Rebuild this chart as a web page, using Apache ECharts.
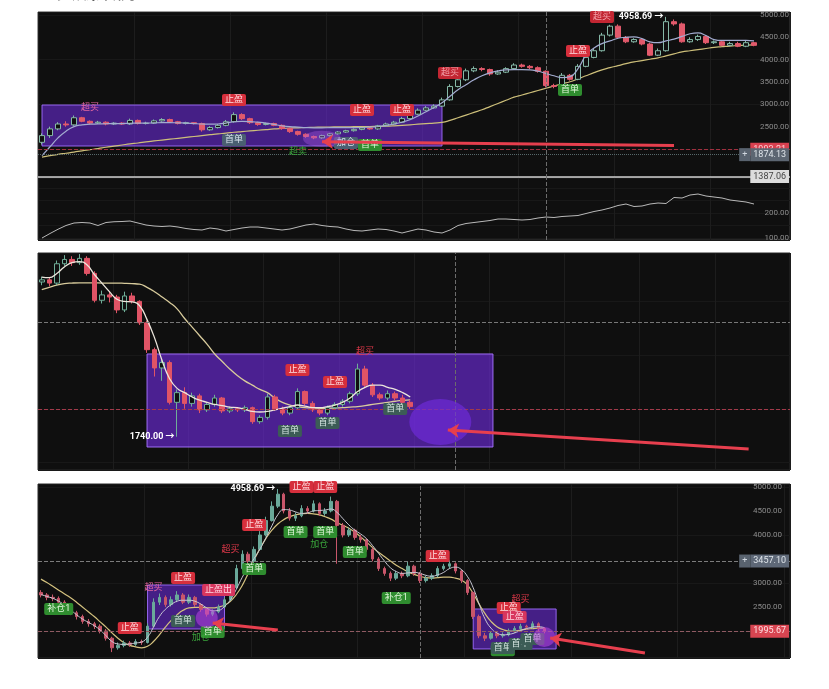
<!DOCTYPE html>
<html><head><meta charset="utf-8">
<script src="https://cdn.jsdelivr.net/npm/echarts@6/dist/echarts.min.js"></script>
<style>html,body{margin:0;padding:0;background:#fff}#c{width:829px;height:689px}</style>
</head><body><div id="c"></div>
<script>
const FONT = 'Roboto, "Noto Sans CJK SC", sans-serif';

// ---------- Panel 1 ----------
const cats1 = Array.from({length: 94}, (_, i) => 'A' + (i + 1));
const k1 = [
[2150,2300,2100,2350],[2300,2450,2250,2500],[2450,2560,2420,2600],[2560,2540,2500,2620],[2540,2700,2520,2750],
[2700,2620,2600,2720],[2620,2580,2550,2640],[2580,2600,2560,2630],[2600,2560,2530,2620],[2560,2580,2540,2600],
[2580,2560,2540,2600],[2560,2640,2540,2680],[2640,2570,2550,2660],[2570,2580,2550,2610],[2580,2630,2560,2660],
[2630,2660,2610,2690],[2660,2610,2590,2680],[2610,2570,2550,2630],[2570,2590,2550,2610],[2590,2570,2550,2600],
[2570,2430,2390,2590],[2430,2480,2410,2510],[2480,2530,2460,2560],[2530,2610,2510,2650],[2610,2770,2590,2820],
[2770,2680,2650,2800],[2680,2590,2560,2700],[2590,2550,2520,2610],[2550,2570,2530,2590],[2570,2530,2510,2590],
[2530,2460,2430,2550],[2460,2390,2360,2480],[2390,2330,2300,2410],[2330,2280,2250,2350],[2280,2250,2220,2300],
[2250,2300,2230,2320],[2300,2340,2280,2360],[2340,2380,2320,2400],[2380,2410,2360,2430],[2410,2440,2390,2460],
[2440,2470,2420,2490],[2470,2450,2430,2500],[2450,2520,2430,2540],[2520,2560,2500,2590],[2560,2600,2540,2630],
[2600,2680,2580,2720],[2680,2780,2660,2820],[2780,2870,2760,2910],[2870,2920,2850,2960],[2920,2960,2900,3000],
[2960,3100,2940,3150],[3100,3400,3080,3450],[3400,3550,3380,3600],[3550,3750,3520,3800],[3750,3800,3720,3850],
[3800,3780,3740,3830],[3780,3680,3640,3800],[3680,3720,3660,3760],[3720,3800,3700,3830],[3800,3880,3780,3920],
[3880,3850,3820,3910],[3850,3820,3790,3880],[3820,3740,3710,3850],[3740,3420,3380,3760],[3420,3400,3360,3460],
[3400,3650,3380,3700],[3650,3560,3530,3680],[3560,3850,3540,3900],[3850,4050,3830,4100],[4050,4200,4030,4250],
[4200,4550,4180,4600],[4550,4750,4520,4780],[4750,4500,4470,4790],[4500,4400,4370,4530],[4400,4450,4380,4480],
[4450,4350,4320,4480],[4350,4100,4080,4380],[4100,4200,4080,4250],[4200,4850,4180,4958.69],[4850,4800,4760,4900],
[4800,4400,4380,4830],[4400,4450,4380,4500],[4450,4520,4420,4560],[4520,4380,4350,4550],[4380,4400,4350,4430],
[4400,4320,4300,4420],[4320,4360,4300,4400],[4360,4300,4280,4400],[4300,4380,4280,4420],[4380,4320,4300,4400]
];
const ma1Fast = [1850,2050,2250,2400,2500,2540,2555,2560,2565,2570,
2570,2575,2580,2580,2585,2590,2590,2585,2580,2570,
2560,2555,2560,2580,2610,2620,2615,2600,2580,2550,
2520,2500,2490,2480,2475,2475,2478,2480,2480,2480,
2482,2490,2500,2530,2560,2600,2656,2740,2835,2930,
3036,3180,3326,3440,3549,3640,3705,3750,3772,3775,
3775,3772,3740,3690,3640,3600,3620,3800,4100,4260,
4360,4420,4480,4500,4510,4470,4400,4380,4420,4460,
4520,4580,4600,4540,4450,4430,4430,4430,4430,4420];
const ma1Slow = [1820,1850,1880,1905,1930,1960,1985,2010,2040,2065,
2090,2115,2135,2160,2180,2200,2220,2240,2260,2280,
2300,2320,2340,2355,2375,2390,2405,2420,2435,2450,
2460,2468,2475,2482,2487,2490,2493,2495,2497,2499,
2500,2503,2507,2512,2520,2530,2542,2555,2568,2580,
2595,2640,2700,2760,2820,2880,2950,3020,3090,3160,
3210,3260,3310,3360,3410,3460,3505,3570,3640,3710,
3772,3820,3865,3910,3950,3980,4010,4040,4085,4130,
4174,4200,4225,4250,4275,4290,4305,4315,4325,4330];
const sub1 = [100,118,135,150,160,162,160,150,162,165,
166,168,160,152,148,146,148,144,138,134,
132,140,136,128,134,140,144,144,140,136,
132,136,144,152,156,150,146,144,136,130,
128,132,136,134,128,120,128,136,132,124,
120,132,150,158,162,166,170,176,176,174,
172,174,180,184,182,186,188,190,198,206,
212,220,230,236,226,228,236,240,238,262,
260,272,276,268,264,260,252,248,244,236];
const box1 = [[0, 2985], [50, 2067]];
const levels1 = {red: 1993.21, grey: 1874.13, white: 1387.06};
const cross1 = 63;
const arrow1 = [[79, 2076], [35, 2165]];
const blob1 = [[35, 2230]];
const ticks1 = [2500, 3000, 3500, 4000, 4500, 5000];
const ticksSub1 = [100, 200];
const tags1 = [
 [6, 2918, '超买', 'pinkText'],
 [24, 3097, '止盈', 'tp'],
 [24, 2202, '首单', 'greyBlue'],
 [40, 2873, '止盈', 'tp'],
 [45, 2873, '止盈', 'tp'],
 [38, 2134, '加仓', 'greyBlue'],
 [41, 2090, '首单', 'green'],
 [32, 1933, '超卖', 'greenText'],
 [51, 3701, '超买', 'ob'],
 [66, 3321, '首单', 'green'],
 [67, 4194, '止盈', 'tp'],
 [70, 4955, '超买', 'ob'],
 [78, 4958.69, '4958.69 →', 'white']
];

// ---------- Panel 2 ----------
const cats2 = Array.from({length: 100}, (_, i) => 'B' + (i + 1));
const k2 = [
[3180,3200,3150,3230],[3200,3170,3140,3220],[3170,3350,3150,3380],[3350,3390,3330,3430],[3390,3360,3330,3420],
[3360,3400,3340,3440],[3400,3260,3240,3420],[3260,3010,2990,3280],[3010,3060,2980,3100],[3060,3040,2990,3090],
[3040,2920,2890,3060],[2920,3050,2900,3090],[3050,3000,2980,3080],[3000,2800,2780,3010],[2800,2550,2520,2820],
[2550,2380,2300,2570],[2380,2430,2260,2460],[2430,2060,2040,2450],[2060,2150,1740,2180],[2150,2050,2000,2200],
[2050,2120,2020,2150],[2120,1990,1960,2140],[1990,2040,1970,2060],[2040,2100,2020,2130],[2100,1980,1960,2110],
[1980,2000,1960,2020],[2000,1990,1970,2010],[1990,2010,1970,2030],[2010,1880,1860,2020],[1880,1920,1860,1940],
[1920,2110,1900,2140],[2110,2000,1980,2130],[2000,1960,1940,2020],[1960,2010,1940,2030],[2010,2160,1990,2190],
[2160,2050,2030,2170],[2050,1990,1970,2070],[1990,1960,1940,2000],[1960,2010,1940,2030],[2010,2040,1990,2060],
[2040,2070,2020,2090],[2070,2140,2050,2160],[2140,2370,2120,2420],[2370,2220,2200,2400],[2220,2130,2110,2240],
[2130,2100,2080,2150],[2100,2140,2080,2170],[2140,2100,2080,2160],[2100,2060,2040,2130],[2060,2020,2000,2080]
];
const ma2Fast = [3225,3220,3260,3320,3360,3370,3340,3250,3170,3090,
3020,3000,2995,2960,2830,2660,2450,2280,2190,2150,
2110,2080,2060,2040,2030,2015,2010,1995,1975,1970,
1975,1990,2005,2020,2035,2025,2010,2010,2020,2035,
2060,2100,2160,2200,2220,2220,2200,2180,2150,2110];
const ma2Slow = [3110,3130,3150,3165,3170,3172,3172,3172,3170,3170,
3170,3168,3165,3160,3130,3090,3040,2990,2930,2840,
2760,2680,2600,2510,2440,2370,2310,2260,2220,2180,
2150,2100,2060,2035,2020,2010,2007,2005,2005,2007,
2010,2015,2020,2030,2040,2050,2060,2070,2078,2082];
const box2 = [[14, 2510], [60, 1644]];
const levels2 = {white: 2808, red: 1999};
const cross2 = 55;
const arrow2 = [[94, 1626], [54, 1802]];
const blob2 = [[53, 1877]];
const tags2 = [
 [34, 2361, '止盈', 'tp'],
 [39, 2249, '止盈', 'tp'],
 [43, 2529, '超买', 'redText'],
 [33, 1793, '首单', 'grey'],
 [38, 1868, '首单', 'grey'],
 [47, 1998, '首单', 'grey'],
 [18, 1740, '1740.00 →', 'white']
];

// ---------- Panel 3 ----------
const cats3 = Array.from({length: 127}, (_, i) => 'C' + (i + 1));
const k3 = [
[2800,2750,2700,2850],[2750,2700,2640,2790],[2700,2680,2620,2760],[2680,2600,2550,2720],[2600,2480,2430,2640],
[2480,2380,2330,2520],[2380,2300,2240,2420],[2300,2200,2150,2340],[2200,2150,2090,2250],[2150,2100,2040,2190],
[2100,2000,1950,2140],[2000,1850,1800,2040],[1850,1650,1560,1880],[1650,1700,1610,1760],[1700,1750,1660,1800],
[1750,1720,1670,1790],[1720,1780,1690,1830],[1780,1760,1710,1820],[1760,2100,1740,2160],[2100,2600,2080,2680],
[2600,2700,2540,2780],[2700,2550,2500,2740],[2550,2650,2510,2720],[2650,2750,2600,2830],[2750,2600,2560,2790],
[2600,2700,2560,2760],[2700,2550,2500,2730],[2550,2450,2400,2580],[2450,2350,2300,2480],[2350,2400,2310,2450],
[2400,2500,2370,2550],[2500,2650,2480,2700],[2650,2900,2630,2960],[2900,3300,2880,3380],[3300,3600,3270,3680],
[3600,3450,3400,3650],[3450,3700,3420,3760],[3700,4000,3680,4080],[4000,4300,3970,4380],[4300,4600,4280,4700],
[4600,4850,4560,4958.69],[4850,4500,4450,4880],[4500,4350,4300,4560],[4350,4400,4290,4470],[4400,4550,4370,4620],
[4550,4500,4440,4600],[4500,4650,4470,4720],[4650,4450,4400,4680],[4450,4500,4400,4560],[4500,4700,4470,4800],
[4700,4200,3400,4730],[4200,4000,3950,4250],[4000,4100,3960,4160],[4100,3950,3900,4130],[3950,3900,3840,4000],
[3900,3700,3650,3930],[3700,3500,3450,3740],[3500,3300,3250,3540],[3300,3200,3150,3340],[3200,3100,3040,3240],
[3100,3200,3060,3250],[3200,3150,3100,3240],[3150,3350,3120,3450],[3350,3200,3150,3380],[3200,3050,3000,3230],
[3050,3100,3010,3150],[3100,3150,3060,3200],[3150,3300,3120,3350],[3300,3350,3260,3400],[3350,3400,3300,3470],
[3400,3250,3200,3430],[3250,3050,3000,3280],[3050,2800,2750,3080],[2800,2300,2250,2830],[2300,1900,1850,2340],
[1900,1850,1790,1960],[1850,1950,1820,2000],[1950,1900,1850,1990],[1900,1920,1860,1970],[1920,2000,1890,2050],
[2000,2050,1960,2100],[2050,2100,2010,2150],[2100,2080,2030,2130],[2080,2150,2050,2200],[2150,2050,2000,2180],
[2050,2000,1950,2080]
];
const ma3Fast = [2760,2720,2680,2620,2540,2440,2340,2250,2180,2110,
2020,1900,1780,1730,1720,1730,1750,1770,1870,2080,
2300,2450,2550,2620,2640,2640,2620,2560,2480,2420,
2430,2510,2650,2870,3120,3330,3510,3710,3940,4190,
4420,4530,4520,4480,4450,4460,4500,4510,4520,4540,
4470,4340,4210,4100,4020,3920,3780,3620,3460,3320,
3240,3200,3210,3220,3200,3160,3140,3170,3220,3300,
3330,3280,3140,2900,2560,2250,2060,1960,1920,1930,
1960,2010,2050,2080,2090,2070];
const ma3Slow = [3080,3010,2930,2850,2770,2690,2600,2500,2400,2300,
2190,2080,1960,1850,1760,1700,1670,1650,1680,1780,
1920,2080,2220,2340,2430,2480,2490,2490,2480,2480,
2500,2540,2620,2760,2950,3200,3480,3720,3930,4100,
4230,4320,4380,4420,4440,4450,4440,4420,4380,4330,
4260,4200,4140,4060,3960,3850,3740,3640,3550,3460,
3370,3300,3230,3180,3140,3110,3100,3110,3120,3120,
3100,3060,2960,2780,2560,2360,2200,2090,2030,2000,
2000,2020,2040,2050,2060,2060];
const box3a = [[18, 2958], [31, 2041]];
const box3b = [[73, 2458], [87, 1625]];
const levels3 = {grey: 3457.10, red: 1995.67, white: 1500.00};
const cross3 = 64;
const arrow3a = [[40, 2020], [29, 2166]];
const arrow3b = [[102, 1541], [86, 1854]];
const blob3 = [[28, 2270], [85, 1875]];
const ticks3 = [2500, 3000, 4000, 4500, 5000];
const tags3 = [
 [3, 2458, '补仓1', 'green'],
 [15, 2062, '止盈', 'tp'],
 [19, 2895, '超买', 'pinkText'],
 [24, 3104, '止盈', 'tp'],
 [30, 2854, '止盈出', 'tpPink'],
 [24, 2208, '首单', 'grey'],
 [29, 1979, '首单', 'green'],
 [27, 1854, '加仓', 'greenText'],
 [32, 3687, '超买', 'redText'],
 [36, 4208, '止盈', 'tp'],
 [36, 3291, '首单', 'green'],
 [44, 5000, '止盈', 'tp'],
 [48, 5000, '止盈', 'tp'],
 [43, 4062, '首单', 'green'],
 [48, 4062, '首单', 'green'],
 [47, 3791, '加仓', 'greenText'],
 [53, 3645, '首单', 'green'],
 [60, 2687, '补仓1', 'green'],
 [67, 3562, '止盈', 'tp'],
 [81, 2645, '超买', 'redText'],
 [79, 2479, '止盈', 'tp'],
 [80, 2291, '止盈', 'tpPink'],
 [78, 1600, '首单', 'green'],
 [78, 1645, '首单', 'grey'],
 [81, 1729, '首单', 'grey'],
 [83, 1833, '首单', 'grey'],
 [40, 4958.69, '4958.69 →', 'white']
];

// ---------- styles ----------
const TAG = {
  tp:       {backgroundColor: '#d62f3c', color: '#ffe0e3', padding: [2, 3, 1, 3], borderRadius: 2},
  tpPink:   {backgroundColor: '#d8365e', color: '#ffd7e2', padding: [2, 3, 1, 3], borderRadius: 2},
  ob:       {backgroundColor: '#c22632', color: '#f2a0a8', padding: [2, 3, 1, 3], borderRadius: 2},
  green:    {backgroundColor: '#2f8d2f', color: '#e3f7dc', padding: [2, 3, 1, 3], borderRadius: 2},
  grey:     {backgroundColor: '#3c5c56', color: '#d4e4e0', padding: [2, 3, 1, 3], borderRadius: 2},
  greyBlue: {backgroundColor: '#4a5f72', color: '#d9e3ee', padding: [2, 3, 1, 3], borderRadius: 2},
  redText:  {color: '#e2394b'},
  pinkText: {color: '#e466a0'},
  greenText:{color: '#3aa63b'},
  white:    {color: '#ffffff', fontSize: 9, fontWeight: 'bold'}
};
function tagData(list) {
  return list.map(([i, v, t, k]) => ({
    coord: [i, v], symbol: 'rect', symbolSize: 1,
    itemStyle: {color: 'rgba(0,0,0,0)'},
    label: Object.assign({show: true, position: k === 'white' ? 'left' : 'inside', distance: 2,
      formatter: t, fontSize: 9, fontFamily: FONT}, TAG[k])
  }));
}
function boxArea(b) {
  return [[{xAxis: b[0][0], yAxis: b[0][1]}, {xAxis: b[1][0], yAxis: b[1][1]}]];
}
function xAx(gi, cats, splitInt) {
  return {type: 'category', gridIndex: gi, data: cats, boundaryGap: true,
    axisLine: {show: false}, axisTick: {show: false}, axisLabel: {show: false},
    splitLine: {show: true, interval: splitInt, lineStyle: {color: '#1d1d1d', width: 1}}};
}
function yAx(gi, min, max, ticks, margin) {
  return {type: 'value', gridIndex: gi, position: 'right', min: min, max: max, scale: true,
    axisLine: {show: false}, axisTick: {show: false},
    axisLabel: ticks ? {show: true, inside: true, margin: margin, customValues: ticks,
      formatter: v => Number(v).toFixed(2), color: '#8c8c8c', fontSize: 8, fontFamily: FONT} : {show: false},
    splitLine: {show: true, lineStyle: {color: '#181818'}}};
}
const candleStyle = {color: '#101010', color0: '#e25a6c', borderColor: '#86b9a8', borderColor0: '#e25a6c', borderWidth: 1};
function arrowSeries(xi, coords) {
  return {type: 'lines', coordinateSystem: 'cartesian2d', xAxisIndex: xi, yAxisIndex: xi, z: 8,
    symbol: ['none', 'arrow'], symbolSize: 11, silent: true,
    lineStyle: {color: '#e73f4e', width: 3, opacity: 1},
    data: [{coords: coords}]};
}
function blobSeries(xi, pts, size, color) {
  return {type: 'scatter', xAxisIndex: xi, yAxisIndex: xi, z: 7, silent: true,
    symbol: 'circle', symbolSize: size, itemStyle: {color: color}, data: pts};
}
function vline(idx) {
  return {xAxis: idx, lineStyle: {color: '#6c6c6c', type: 'dashed', width: 1}, label: {show: false}};
}
const pricePlus = (v, bg) => ({show: true, position: 'insideEnd', distance: 1, fontFamily: FONT,
  formatter: '{p|+}{v|' + v + '}',
  rich: {p: {backgroundColor: '#59636f', color: '#cfd6de', padding: [2, 3], fontSize: 9},
         v: {backgroundColor: bg, color: '#dfe5ea', padding: [2, 3], fontSize: 9}}});
const priceBox = (v, bg, fg) => ({show: true, position: 'insideEnd', distance: 1, fontFamily: FONT,
  formatter: v, backgroundColor: bg, color: fg, padding: [2, 3], fontSize: 9});

const option = {
  backgroundColor: '#ffffff',
  animation: false,
  textStyle: {fontFamily: FONT},
  graphic: [
    {type: 'text', left: 36, top: -16, silent: true,
     style: {text: '、实战案例', fontSize: 20, fill: '#222', fontFamily: FONT}}
  ],
  grid: [
    {left: 38, top: 12, width: 752, height: 166, show: true, backgroundColor: '#0f0f0f', borderColor: '#3c3c3c', borderWidth: 1, outerBoundsMode: 'none'},
    {left: 38, top: 178, width: 752, height: 62, show: true, backgroundColor: '#0f0f0f', borderColor: '#3c3c3c', borderWidth: 1, outerBoundsMode: 'none'},
    {left: 38, top: 253, width: 752, height: 217, show: true, backgroundColor: '#0f0f0f', borderColor: '#2a2a2a', borderWidth: 1, outerBoundsMode: 'none'},
    {left: 38, top: 484, width: 752, height: 174, show: true, backgroundColor: '#0f0f0f', borderColor: '#2a2a2a', borderWidth: 1, outerBoundsMode: 'none'}
  ],
  xAxis: [xAx(0, cats1, 11), xAx(1, cats1, 11), xAx(2, cats2, 9), xAx(3, cats3, 17)],
  yAxis: [
    yAx(0, 1351, 5067, ticks1, 1),
    yAx(1, 92, 340, ticksSub1, 1),
    yAx(2, 1430, 3450, null, 0),
    yAx(3, 1437, 5062, ticks3, 8)
  ],
  series: [
    // ---- panel 1
    {type: 'line', xAxisIndex: 0, yAxisIndex: 0, data: ma1Slow, smooth: true, symbol: 'none', z: 1,
     lineStyle: {color: '#cdbf7a', width: 1.2},
     markArea: {silent: true, itemStyle: {color: 'rgba(104,42,208,0.62)', borderColor: 'rgba(160,110,255,0.9)', borderWidth: 1}, data: boxArea(box1)}},
    {type: 'candlestick', xAxisIndex: 0, yAxisIndex: 0, data: k1, barWidth: 5, z: 3, itemStyle: candleStyle,
     markLine: {silent: true, symbol: ['none', 'none'], data: [
       {yAxis: levels1.red, lineStyle: {color: '#a0303f', type: 'dashed', width: 1}, label: priceBox(levels1.red.toFixed(2), '#d8404f', '#ffd0d6')},
       {yAxis: levels1.grey, lineStyle: {color: '#56686a', type: 'dotted', width: 1}, label: pricePlus(levels1.grey.toFixed(2), '#5c6672')},
       {yAxis: levels1.white, lineStyle: {color: '#cfcfcf', type: 'solid', width: 1.5}, label: priceBox(levels1.white.toFixed(2), '#dcdcdc', '#444')},
       vline(cross1)
     ]},
     markPoint: {data: tagData(tags1)}},
    {type: 'line', xAxisIndex: 0, yAxisIndex: 0, data: ma1Fast, smooth: true, symbol: 'none', z: 4,
     lineStyle: {color: '#a3acd0', width: 1.2}},
    {type: 'line', xAxisIndex: 1, yAxisIndex: 1, data: sub1, symbol: 'none', z: 3,
     lineStyle: {color: '#b9b9b9', width: 1},
     markLine: {silent: true, symbol: ['none', 'none'], data: [vline(cross1)]}},
    arrowSeries(0, arrow1),
    blobSeries(0, blob1, [38, 16], 'rgba(175,95,230,0.45)'),

    // ---- panel 2
    {type: 'line', xAxisIndex: 2, yAxisIndex: 2, data: ma2Slow, smooth: true, symbol: 'none', z: 1,
     lineStyle: {color: '#d8cb9c', width: 1.3},
     markArea: {silent: true, itemStyle: {color: 'rgba(104,42,208,0.68)', borderColor: 'rgba(165,115,255,0.95)', borderWidth: 1}, data: boxArea(box2)},
     markLine: {silent: true, symbol: ['none', 'none'], data: [
       {yAxis: levels2.white, lineStyle: {color: '#777', type: 'dashed', width: 1}, label: {show: false}},
       {yAxis: levels2.red, lineStyle: {color: '#a23a4a', type: 'dashed', width: 1}, label: {show: false}},
       vline(cross2)
     ]}},
    {type: 'candlestick', xAxisIndex: 2, yAxisIndex: 2, data: k2, barWidth: 5, z: 3,
     itemStyle: {color: '#101010', color0: '#e05466', borderColor: '#6fae98', borderColor0: '#e05466', borderWidth: 1},
     markPoint: {data: tagData(tags2)}},
    {type: 'line', xAxisIndex: 2, yAxisIndex: 2, data: ma2Fast, smooth: true, symbol: 'none', z: 4,
     lineStyle: {color: '#ece6dc', width: 1.3}},
    blobSeries(2, blob2, [62, 46], 'rgba(112,44,222,0.8)'),
    arrowSeries(2, arrow2),

    // ---- panel 3
    {type: 'line', xAxisIndex: 3, yAxisIndex: 3, data: ma3Slow, smooth: true, symbol: 'none', z: 1,
     lineStyle: {color: '#d4c27f', width: 1.2},
     markArea: {silent: true, itemStyle: {color: 'rgba(104,42,208,0.62)', borderColor: 'rgba(160,110,255,0.9)', borderWidth: 1},
       data: boxArea(box3a).concat(boxArea(box3b))},
     markLine: {silent: true, symbol: ['none', 'none'], data: [
       {yAxis: levels3.grey, lineStyle: {color: '#7c7c7c', type: 'dashed', width: 1}, label: pricePlus(levels3.grey.toFixed(2), '#5e6877')},
       {yAxis: levels3.red, lineStyle: {color: '#8f5a62', type: 'dashed', width: 1}, label: priceBox(levels3.red.toFixed(2), '#d84551', '#ffe0e3')},
       {yAxis: levels3.white, lineStyle: {opacity: 0}, label: priceBox(levels3.white.toFixed(2), '#e6e6e6', '#bbb')},
       vline(cross3)
     ]}},
    {type: 'candlestick', xAxisIndex: 3, yAxisIndex: 3, data: k3, barWidth: 3, z: 3,
     itemStyle: {color: '#6aa99a', color0: '#c8566a', borderColor: '#6aa99a', borderColor0: '#c8566a', borderWidth: 1},
     markPoint: {data: tagData(tags3)}},
    {type: 'line', xAxisIndex: 3, yAxisIndex: 3, data: ma3Fast, smooth: true, symbol: 'none', z: 4,
     lineStyle: {color: '#c9c9d4', width: 1}},
    blobSeries(3, blob3, [22, 20], 'rgba(190,70,230,0.65)'),
    arrowSeries(3, arrow3a),
    arrowSeries(3, arrow3b)
  ]
};
const chart = echarts.init(document.getElementById('c'), null, {renderer: 'canvas'});
chart.setOption(option);
</script></body></html>
